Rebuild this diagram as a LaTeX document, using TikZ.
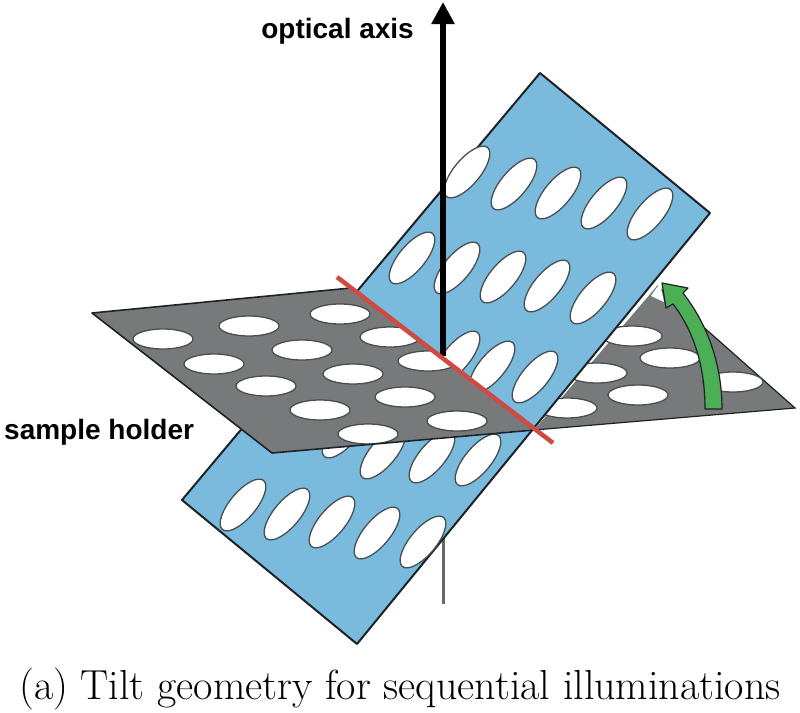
\documentclass[tikz,border=0pt]{standalone}
\usepackage{fontspec}
\usetikzlibrary{arrows.meta}
\newfontfamily\labelfont{Liberation Sans}
\definecolor{plateblue}{HTML}{79BADD}
\definecolor{holdergray}{HTML}{78797B}
\definecolor{edgedark}{HTML}{1C2226}
\definecolor{tiltred}{HTML}{CF4A42}
\definecolor{tiltgreen}{HTML}{4CAE55}
\tikzset{
  plate/.style={draw=edgedark,line width=2pt,line join=round},
  flathole/.style={fill=white,draw=edgedark!80,line width=1.3pt},
  tilthole/.style={fill=white,draw=edgedark!80,line width=1.3pt},
  axislabel/.style={font=\labelfont\bfseries\fontsize{28}{30}\selectfont,inner sep=0pt}
}
\begin{document}
\begin{tikzpicture}[x=1pt,y=-1pt]
  \useasboundingbox (0,0) rectangle (800,712);
  % lower end of the axis, behind everything
  \coordinate (axislow) at (443,530);
  \coordinate (axisend) at (443,604);
  \draw[line width=3pt,holdergray!85!black] (axislow) -- (axisend);
  % far half of the holder
  \fill[holdergray] (534,430) -- (657,286) -- (795,408) -- cycle;
  \draw[edgedark,line width=1.2pt] (657,286) -- (795,408) -- (534,430);
  \foreach \x/\y in {632/336,670/358,733/382,638/395,597/373,567/408}
    \draw[flathole] (\x,\y) ellipse (30 and 10);
  \fill[white] (651,296) -- (660,283) -- (664,302) -- cycle;
  % tilted plate
  \draw[plate,fill=plateblue] (540,73) -- (710,213) -- (357,644) -- (182,500) -- cycle;
  \foreach \x/\y in {467/172,514/184,558/193,604/203,650/214,
                     412/258,457/268,503/277,547/286,593/298,
                     457/357,492/367,535/377,
                     345/432,383/453,432/457,478/460,
                     243/505,287/514,332/522,377/533,423/542}
    \draw[tilthole,rotate around={50:(\x,\y)}] (\x,\y) ellipse (32 and 13);
  % optical axis
  \coordinate (axisfoot) at (443,356);
  \coordinate (axistip) at (443,2);
  \draw[line width=5.5pt,-{Triangle[length=22pt,width=22pt]}] (axisfoot) -- (axistip);
  \node[axislabel,anchor=east] (axisname) at (414,31) {optical axis};
  % near half of the holder
  \begin{scope}
    \clip (92,313) -- (351,288) -- (534,429) -- (272,453) -- cycle;
    \fill[holdergray] (92,313) -- (351,288) -- (534,429) -- (272,453) -- cycle;
    \foreach \x/\y in {163/339,249/326,340/314,
                       214/364,302/350,390/337,
                       266/386,353/374,428/361,
                       320/410,405/397,
                       368/434,457/421}
      \draw[flathole] (\x,\y) ellipse (30 and 10);
  \end{scope}
  \draw[edgedark,line width=1.6pt,line join=round] (351,288) -- (92,313) -- (272,453) -- (534,430);
  \node[axislabel,anchor=west] (holdername) at (4,432) {sample holder};
  % tilt axis
  \coordinate (hingea) at (337,277);
  \coordinate (hingeb) at (553,443);
  \draw[tiltred,line width=4.5pt] (hingea) -- (hingeb);
  % tilt arrow
  \draw[fill=tiltgreen,draw=edgedark,line width=1.2pt,line join=round]
    (705,409) .. controls (705,365) and (693,330) .. (673,304)
    -- (666,308) -- (662,283) -- (688,288) -- (683,293)
    .. controls (708,325) and (722,365) .. (722,409) -- cycle;
  \node[inner sep=0pt,font=\fontsize{42}{46}\selectfont] (caption) at (400,689) {(a) Tilt geometry for sequential illuminations};
\end{tikzpicture}
\end{document}
